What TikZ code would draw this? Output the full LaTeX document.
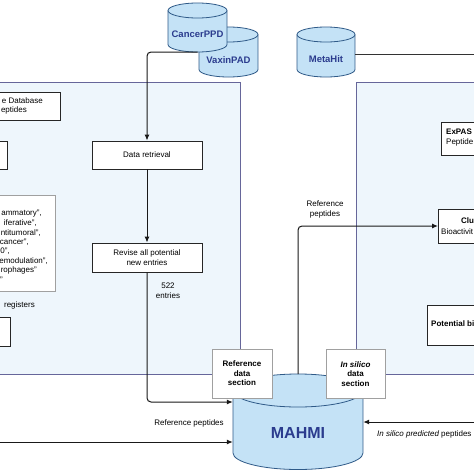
\documentclass[tikz,border=0pt]{standalone}
\usepackage{fontspec}
\setmainfont{Liberation Sans}
\usetikzlibrary{arrows.meta}
\definecolor{panelfill}{HTML}{EEF6FC}
\definecolor{panelline}{HTML}{66669A}
\definecolor{cylfill}{HTML}{C4E2F6}
\definecolor{cylline}{HTML}{2F5A88}
\definecolor{cyltext}{HTML}{2B3C8E}
\definecolor{secline}{HTML}{A0A0A0}
\newcommand\fs[2]{\fontsize{#1}{#2}\selectfont}
\newcommand\cylshape[5]{%
  \fill[cylfill] (#1-#4,#2) rectangle (#1+#4,#3);
  \fill[cylfill] (#1,#3) ellipse[x radius=#4, y radius=#5];
  \draw[cylborder] (#1-#4,#2) -- (#1-#4,#3) arc[start angle=180, end angle=0, x radius=#4, y radius=#5] -- (#1+#4,#2);
  \filldraw[fill=cylfill, cylborder] (#1,#2) ellipse[x radius=#4, y radius=#5];
}
\begin{document}
\begin{tikzpicture}[x=1pt,y=-1pt,
  conn/.style={line width=1pt, draw=black!90, rounded corners=4pt, -{Latex[length=6pt,width=5pt]}},
  plainline/.style={line width=1pt, draw=black!80},
  panel/.style={fill=panelfill, draw=panelline, line width=0.9pt},
  procbox/.style={draw=black!85, fill=white, line width=0.9pt, inner sep=0pt, align=center, font=\fs{8}{9.5}},
  graybox/.style={draw=secline, fill=white, line width=0.8pt, inner sep=0pt},
  secbox/.style={draw=secline, fill=white, line width=0.8pt, inner sep=0pt, align=center, font=\fs{8}{9.5}\bfseries, minimum width=60, minimum height=49},
  cyllabel/.style={font=\fs{9.5}{11}\bfseries, text=cyltext, inner sep=0pt},
  biglabel/.style={font=\fs{16}{18}\bfseries, text=cyltext, inner sep=0pt},
  cylborder/.style={draw=cylline, line width=0.8pt},
  lbl/.style={font=\fs{8}{10}, inner sep=0pt, align=center},
  blbl/.style={font=\fs{8}{10}\bfseries, inner sep=0pt},
]
\useasboundingbox (0,0) rectangle (474,474);
\fill[white] (0,0) rectangle (474,474);
\clip (0,0) rectangle (474,474);

% panels
\draw[panel] (-5,82) rectangle (240,374);
\draw[panel] (356,82) rectangle (480,374);

% left panel boxes (cut by the edge)
\node[procbox, minimum width=120, minimum height=28, anchor=east] (pdb) at (61,106) {};
\node[lbl, anchor=east] (pdbA) at (43,101) {e Database};
\node[lbl, anchor=east] (pdbB) at (27,110) {eptides};
\node[procbox, minimum width=60, minimum height=28, anchor=east] (box2) at (8,155) {};
\node[graybox, minimum width=120, minimum height=96, anchor=east] (kw) at (56,243) {};
\node[lbl, anchor=east] (kw1) at (42,214) {ammatory",};
\node[lbl, anchor=east] (kw2) at (37,223.4) {iferative",};
\node[lbl, anchor=east] (kw3) at (41,232.8) {ntitumoral",};
\node[lbl, anchor=east] (kw4) at (29,242.2) {cancer",};
\node[lbl, anchor=east] (kw5) at (10,251.6) {0",};
\node[lbl, anchor=east] (kw6) at (48,261) {emodulation",};
\node[lbl, anchor=east] (kw7) at (37,270.4) {rophages"};
\node[lbl, anchor=east] (kw8) at (3,279.8) {"};
\node[lbl, anchor=east] (regs) at (35,305) {registers};
\node[procbox, minimum width=60, minimum height=29, anchor=east] (box4) at (11,331.5) {};

% process boxes
\node[procbox, minimum width=110, minimum height=28] (dr) at (147,155) {Data retrieval};
\node[procbox, minimum width=110, minimum height=29] (rev) at (147,257.5) {Revise all potential\\new entries};
\node[lbl] (n522) at (168,291) {522\\entries};

% right panel boxes (cut by the edge)
\node[procbox, minimum width=80, minimum height=33, anchor=west] (expasy) at (441,138.5) {};
\node[blbl, anchor=west] (expasyA) at (446,132) {ExPAS};
\node[lbl, anchor=west] (expasyB) at (446,142) {Peptide};
\node[procbox, minimum width=80, minimum height=34, anchor=west] (clu) at (438,226) {};
\node[blbl, anchor=west] (cluA) at (461,221) {Clu};
\node[lbl, anchor=west] (cluB) at (441,232) {Bioactivit};
\node[procbox, minimum width=90, minimum height=40, anchor=west] (pot) at (427,325) {};
\node[blbl, anchor=west] (potA) at (431,324) {Potential bi};

% source databases
\cylshape{228.5}{34.5}{69.5}{29.5}{7.5}
\cylshape{197.5}{10.5}{44.5}{29.5}{7.5}
\cylshape{326}{34.5}{69.5}{29}{7.5}
\node[cyllabel] (cancer) at (197.5,34.5) {CancerPPD};
\node[cyllabel] (vaxin) at (228.5,60) {VaxinPAD};
\node[cyllabel] (metahit) at (326,59.5) {MetaHit};

% MAHMI
\cylshape{298}{390.5}{453}{65}{16.5}
\node[biglabel, minimum width=130] (mahmi) at (298,432.5) {MAHMI};

% connectors
\coordinate (cancerB) at (197.5,52);
\draw[conn] (cancerB) -| (dr.north);
\draw[conn] (dr.south) -- (rev.north);
\coordinate (revIn) at (0,402);
\draw[conn] (rev.south) |- (mahmi.west |- revIn);
\coordinate (mahmiT) at (298,374);
\draw[conn] (mahmiT) |- (clu.west);
\node[lbl] (refpepA) at (325,209) {Reference\\peptides};
\coordinate (metaE) at (355,54);
\coordinate (metaOut) at (480,54);
\draw[plainline] (metaE) -- (metaOut);
\coordinate (refSrc) at (-5,442);
\draw[conn] (refSrc) -- (mahmi.west |- refSrc);
\node[lbl] (refpepB) at (189,423) {Reference peptides};
\coordinate (isSrc) at (480,422);
\draw[conn] (isSrc) -- (mahmi.east |- isSrc);
\node[lbl, anchor=west] (ispp) at (377,434) {{\itshape In silico predicted} peptides};

% section boxes
\node[secbox] (refsec) at (242,373.5) {Reference\\data\\section};
\node[secbox, minimum width=59] (issec) at (355.5,374) {{\itshape In silico}\\data\\section};
\end{tikzpicture}
\end{document}
